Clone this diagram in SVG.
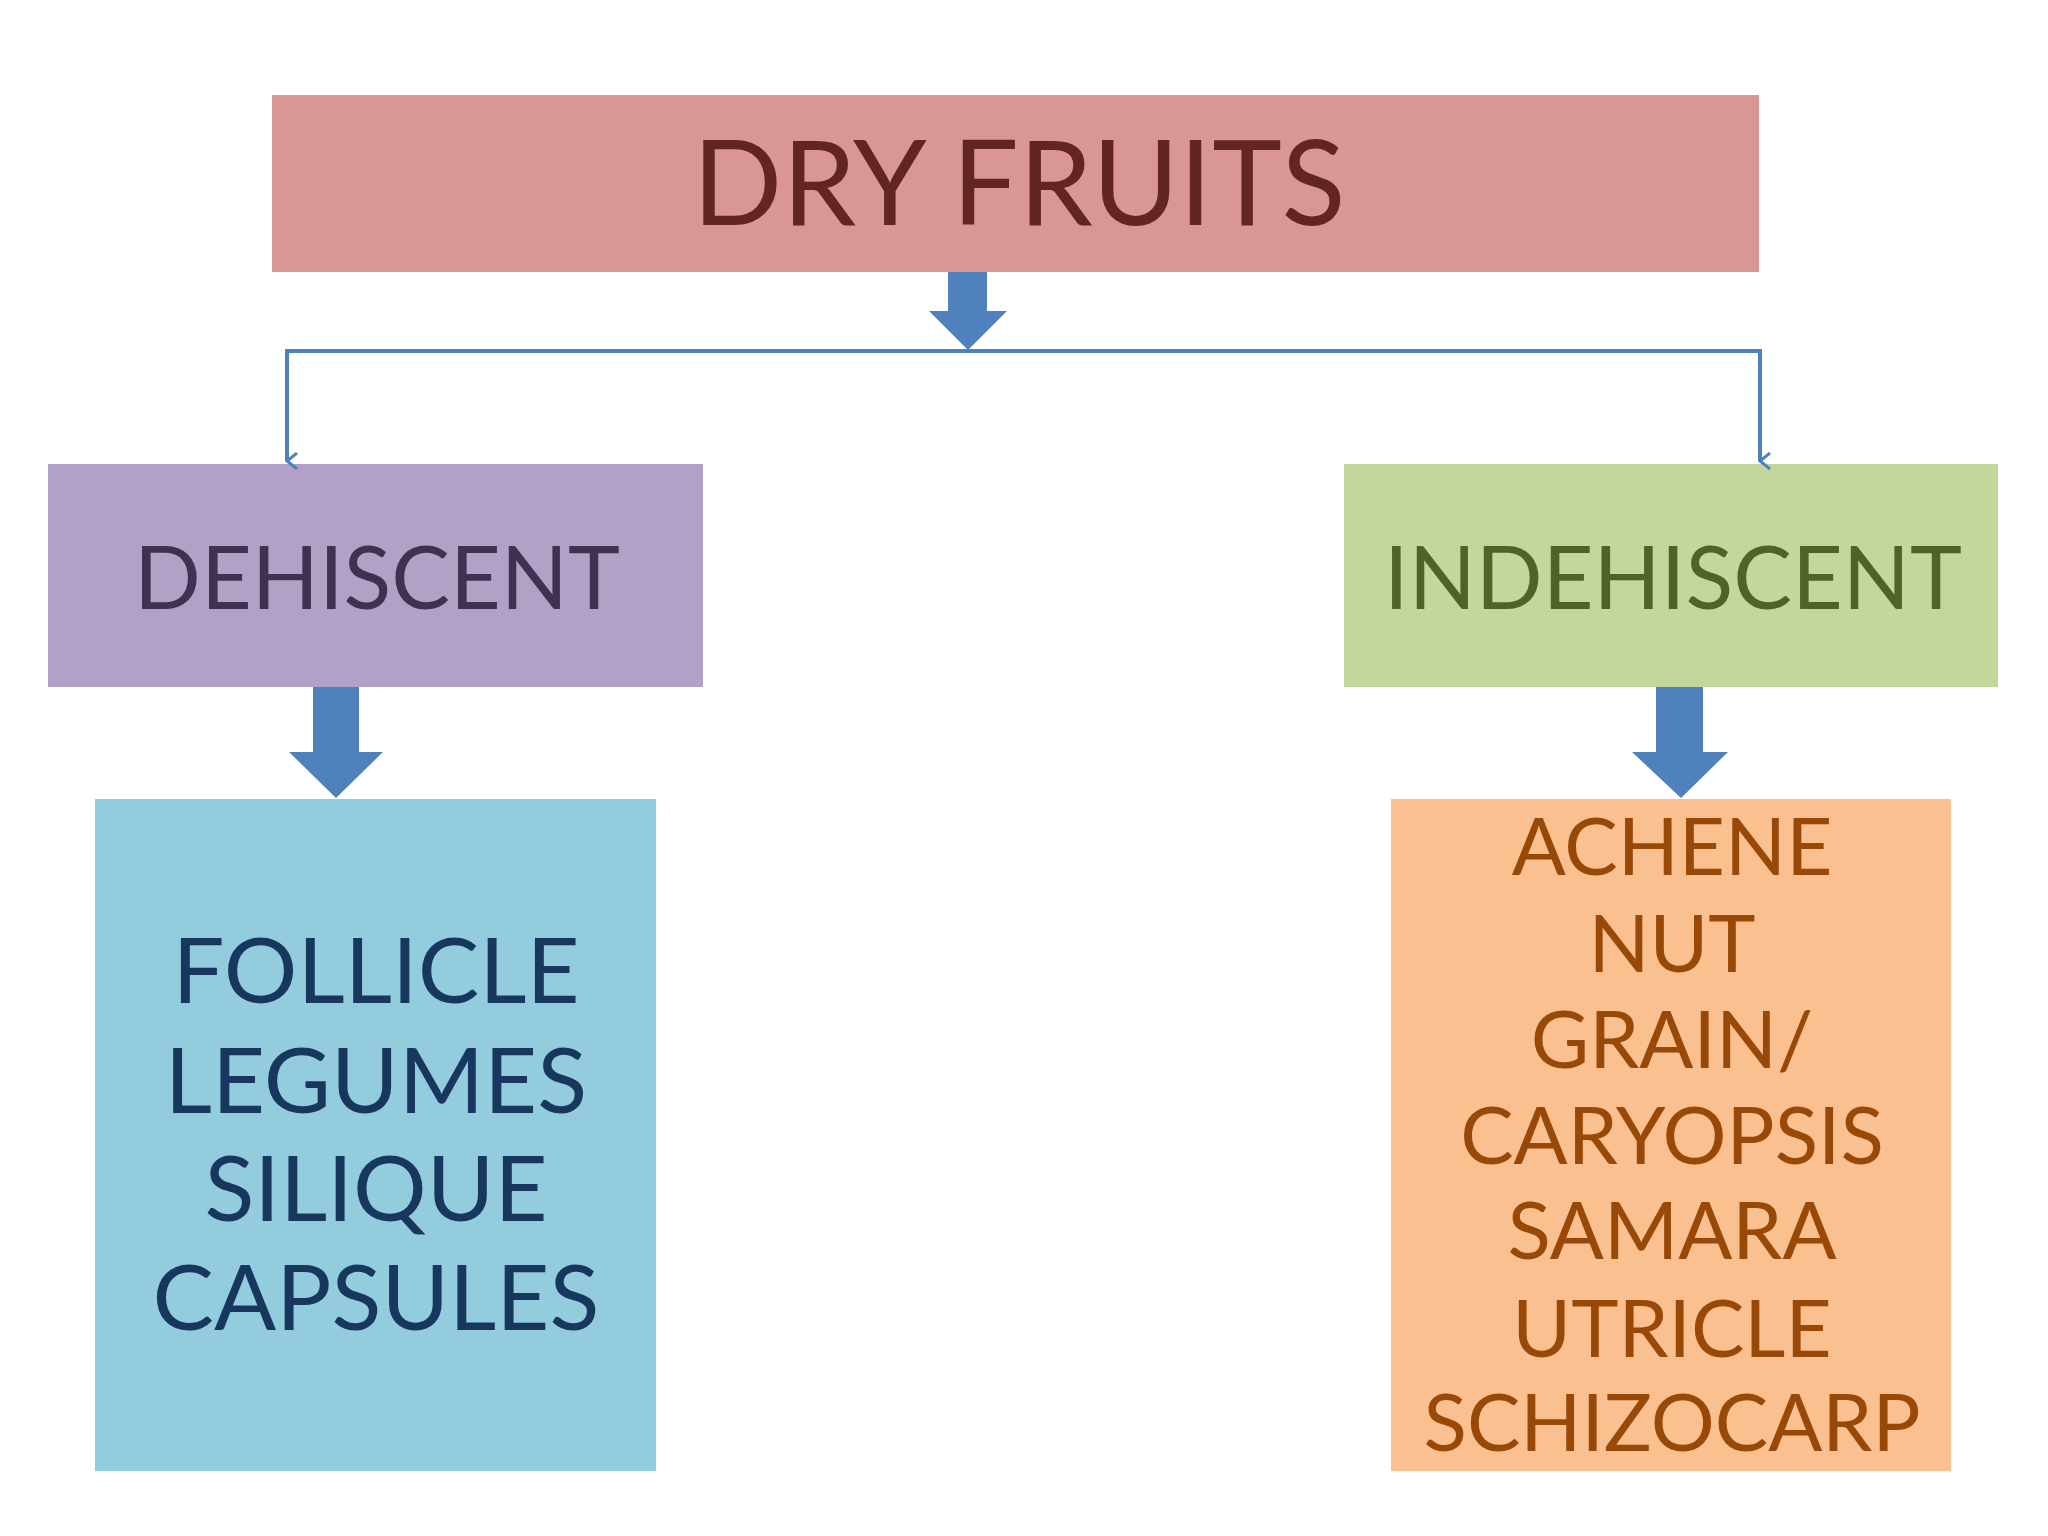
<svg xmlns="http://www.w3.org/2000/svg" width="2048" height="1536" viewBox="0 0 2048 1536">
<style>
text{font-family:Lato,"Open Sans","Liberation Sans",sans-serif;text-anchor:middle}
.blk{fill:#4F81BD}
.ln{stroke:#4F81BD;stroke-width:4;fill:none}
</style>
<defs>
<marker id="oa" viewBox="0 0 20 20" refX="10" refY="18" markerWidth="20" markerHeight="20" markerUnits="userSpaceOnUse" orient="auto-start-reverse">
<path d="M2,8 L10,18 L18,8" fill="none" stroke="#4F81BD" stroke-width="3"/>
</marker>
</defs>
<rect width="2048" height="1536" fill="#fff"/>
<g id="dry-fruits"><rect x="272" y="95" width="1487" height="177" fill="#DA9694"/><text x="1019" y="225" font-size="118" fill="#632523">DRY FRUITS</text></g>
<g id="dehiscent"><rect x="48" y="464" width="655" height="223" fill="#B2A1C7"/><text x="377" y="609" font-size="88" fill="#3F3151">DEHISCENT</text></g>
<g id="indehiscent"><rect x="1344" y="464" width="654" height="223" fill="#C3D69B"/><text x="1673" y="609" font-size="88" fill="#4F6228">INDEHISCENT</text></g>
<g id="dehiscent-types"><rect x="95" y="799" width="561" height="672" fill="#93CDDD"/>
<g font-size="92" fill="#17375E"><text x="376" y="1003">FOLLICLE</text><text x="376" y="1113">LEGUMES</text><text x="376" y="1221">SILIQUE</text><text x="376" y="1330">CAPSULES</text></g></g>
<g id="indehiscent-types"><rect x="1391" y="799" width="560" height="672" fill="#FAC090"/>
<g font-size="80" fill="#984807"><text x="1672" y="875">ACHENE</text><text x="1672" y="972">NUT</text><text x="1672" y="1068">GRAIN/</text><text x="1672" y="1164">CARYOPSIS</text><text x="1672" y="1259">SAMARA</text><text x="1672" y="1357">UTRICLE</text><text x="1672" y="1451">SCHIZOCARP</text></g></g>
<g id="connectors">
<polygon class="blk" points="948,272 987,272 987,311 1007,311 968,350 929,311 948,311"/>
<polyline class="ln" points="287,461 287,351 1760,351 1760,461" marker-start="url(#oa)" marker-end="url(#oa)"/>
<polygon class="blk" points="313,687 359,687 359,752 383,752 336,798 289,752 313,752"/>
<polygon class="blk" points="1656,687 1703,687 1703,752 1728,752 1681,798 1632,752 1656,752"/>
</g>
</svg>
